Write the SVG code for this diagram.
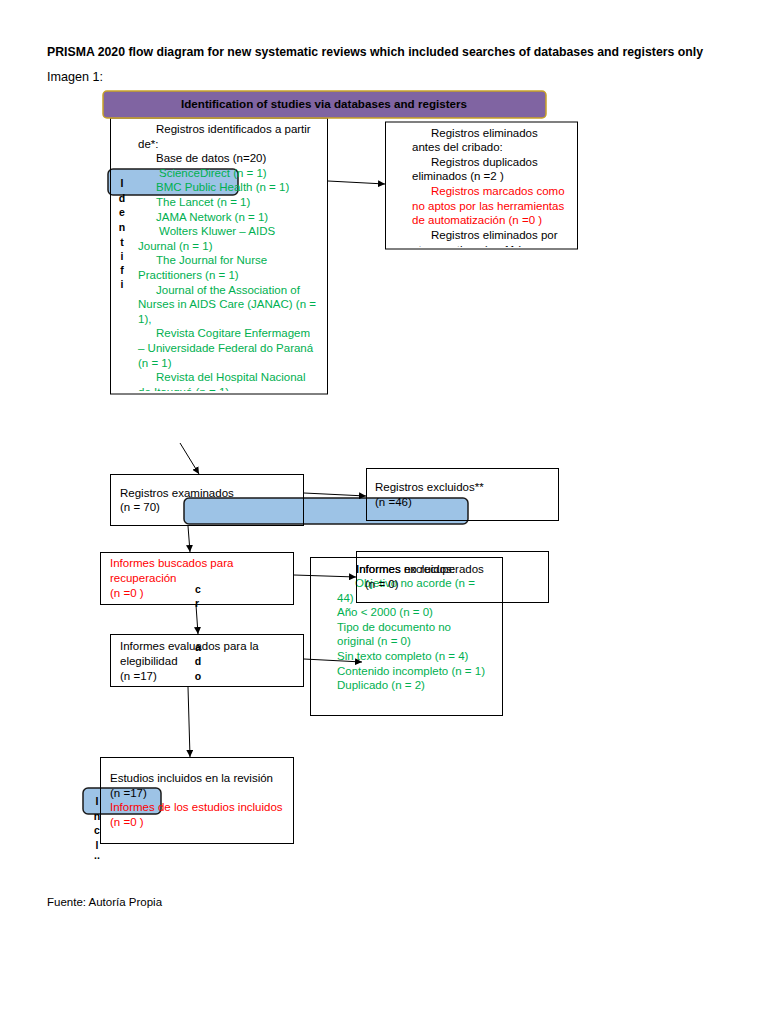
<svg xmlns="http://www.w3.org/2000/svg" width="768" height="1024" viewBox="0 0 768 1024">
<style>
.t{font-family:"Liberation Sans",Arial,sans-serif;font-size:11.5px;fill:#000}
.g{fill:#00B050}
.r{fill:#FF0000}
.v{font-family:"Liberation Sans",Arial,sans-serif;font-size:10.5px;font-weight:bold;fill:#000}
.box{fill:none;stroke:#000;stroke-width:1}
.blue{fill:#9DC3E6;stroke:#1a1a1a;stroke-width:1.5}
.c{stroke:#000;stroke-width:1;fill:none}
</style>
<defs>
<marker id="ah" viewBox="0 0 10 10" refX="10" refY="5" markerWidth="7" markerHeight="7" orient="auto" markerUnits="userSpaceOnUse">
<path d="M0,0 L10,5 L0,10 z" fill="#000"/>
</marker>
<clipPath id="clipL"><rect x="110" y="118" width="218" height="273"/></clipPath>
<clipPath id="clipR"><rect x="385" y="122" width="193" height="125"/></clipPath>
</defs>
<rect width="768" height="1024" fill="#fff"/>

<g id="title">
<text x="47" y="56" font-family="Liberation Sans,Arial,sans-serif" font-size="13" font-weight="bold" textLength="656" lengthAdjust="spacingAndGlyphs">PRISMA 2020 flow diagram for new systematic reviews which included searches of databases and registers only</text>
<text x="47" y="81" font-family="Liberation Sans,Arial,sans-serif" font-size="13" textLength="56" lengthAdjust="spacingAndGlyphs">Imagen 1:</text>
</g>

<g id="blue-bars">
<rect class="blue" x="108" y="169" width="130" height="26" rx="5"/>
<rect class="blue" x="184" y="498" width="284" height="26" rx="5"/>
<rect class="blue" x="83" y="788" width="78" height="26" rx="5"/>
</g>

<g id="n-identified">
<rect class="box" x="110.5" y="118" width="217" height="276"/>
<g clip-path="url(#clipL)">
<text class="t" x="156" y="133">Registros identificados a partir</text>
<text class="t" x="138" y="148">de*:</text>
<text class="t" x="156" y="162">Base de datos (n=20)</text>
<text class="t g" x="159" y="177">ScienceDirect (n = 1)</text>
<text class="t g" x="156" y="191">BMC Public Health (n = 1)</text>
<text class="t g" x="156" y="206">The Lancet (n = 1)</text>
<text class="t g" x="156" y="221">JAMA Network (n = 1)</text>
<text class="t g" x="159" y="235">Wolters Kluwer – AIDS</text>
<text class="t g" x="138" y="250">Journal (n = 1)</text>
<text class="t g" x="156" y="264">The Journal for Nurse</text>
<text class="t g" x="138" y="279">Practitioners (n = 1)</text>
<text class="t g" x="156" y="294">Journal of the Association of</text>
<text class="t g" x="138" y="308">Nurses in AIDS Care (JANAC) (n =</text>
<text class="t g" x="138" y="323">1),</text>
<text class="t g" x="156" y="337">Revista Cogitare Enfermagem</text>
<text class="t g" x="138" y="352">– Universidade Federal do Paraná</text>
<text class="t g" x="138" y="367">(n = 1)</text>
<text class="t g" x="156" y="381">Revista del Hospital Nacional</text>
<text class="t g" x="138" y="396">de Itauguá (n = 1)</text>
</g>
</g>

<g id="header">
<rect x="103" y="91" width="443" height="27" rx="4" fill="#8064A2" stroke="#C9A227" stroke-width="1.5"/>
<text x="324" y="108" text-anchor="middle" font-family="Liberation Sans,Arial,sans-serif" font-size="11" font-weight="bold" textLength="286" lengthAdjust="spacingAndGlyphs">Identification of studies via databases and registers</text>
</g>

<g id="label-identification">
<text class="v" x="122" y="187" text-anchor="middle">I</text>
<text class="v" x="122" y="202" text-anchor="middle">d</text>
<text class="v" x="122" y="216" text-anchor="middle">e</text>
<text class="v" x="122" y="231" text-anchor="middle">n</text>
<text class="v" x="122" y="246" text-anchor="middle">t</text>
<text class="v" x="122" y="260" text-anchor="middle">i</text>
<text class="v" x="122" y="274" text-anchor="middle">f</text>
<text class="v" x="122" y="288" text-anchor="middle">i</text>
</g>

<g id="n-removed">
<rect class="box" x="385.5" y="122" width="192" height="127"/>
<g clip-path="url(#clipR)">
<text class="t" x="431" y="137">Registros eliminados</text>
<text class="t" x="412" y="151">antes del cribado:</text>
<text class="t" x="431" y="166">Registros duplicados</text>
<text class="t" x="412" y="180">eliminados (n =2 )</text>
<text class="t r" x="431" y="195">Registros marcados como</text>
<text class="t r" x="412" y="210">no aptos por las herramientas</text>
<text class="t r" x="412" y="224">de automatización (n =0 )</text>
<text class="t" x="431" y="239">Registros eliminados por</text>
<text class="t" x="412" y="254">otros motivos (n =11 )</text>
</g>
</g>

<g id="n-screened">
<rect class="box" x="110.5" y="474.5" width="193" height="51"/>
<text class="t" x="120" y="497">Registros examinados</text>
<text class="t" x="120" y="511">(n = 70)</text>
</g>

<g id="n-excluded">
<rect class="box" x="366.5" y="468.5" width="192" height="52"/>
<text class="t" x="375" y="491">Registros excluidos**</text>
<text class="t" x="375" y="506">(n =46)</text>
</g>

<g id="n-sought">
<rect class="box" x="100.5" y="552.5" width="193" height="52"/>
<text class="t r" x="110" y="567">Informes buscados para</text>
<text class="t r" x="110" y="582">recuperación</text>
<text class="t r" x="110" y="597">(n =0 )</text>
</g>

<g id="n-reports-excluded">
<rect class="box" x="310.5" y="557.5" width="192" height="158"/>
<text class="t" x="356" y="573">Informes excluidos:</text>
<text class="t g" x="355" y="587">Objetivo no acorde (n =</text>
<text class="t g" x="337" y="602">44)</text>
<text class="t g" x="337" y="616">Año &lt; 2000 (n = 0)</text>
<text class="t g" x="337" y="631">Tipo de documento no</text>
<text class="t g" x="337" y="645">original (n = 0)</text>
<text class="t g" x="337" y="660">Sin texto completo (n = 4)</text>
<text class="t g" x="337" y="675">Contenido incompleto (n = 1)</text>
<text class="t g" x="337" y="689">Duplicado (n = 2)</text>
</g>

<g id="n-not-retrieved">
<rect class="box" x="356.5" y="551.5" width="192" height="51"/>
<text class="t" x="356" y="573">Informes no recuperados</text>
<text class="t" x="365" y="588">(n = 0)</text>
</g>

<g id="n-assessed">
<rect class="box" x="110.5" y="634.5" width="193" height="52"/>
<text class="t" x="120" y="650">Informes evaluados para la</text>
<text class="t" x="120" y="665">elegibilidad</text>
<text class="t" x="120" y="680">(n =17)</text>
</g>

<g id="label-screening">
<text class="v" x="198" y="593" text-anchor="middle">c</text>
<text class="v" x="197" y="607" text-anchor="middle">r</text>
<text class="v" x="198" y="651" text-anchor="middle">a</text>
<text class="v" x="198" y="665" text-anchor="middle">d</text>
<text class="v" x="198" y="680" text-anchor="middle">o</text>
</g>

<g id="n-included">
<rect class="box" x="100.5" y="757.5" width="193" height="86"/>
<text class="t" x="110" y="782">Estudios incluidos en la revisión</text>
<text class="t" x="110" y="797">(n =17)</text>
<text class="t r" x="110" y="811">Informes de los estudios incluidos</text>
<text class="t r" x="110" y="826">(n =0  )</text>
</g>

<g id="label-included">
<text class="v" x="97" y="805" text-anchor="middle">I</text>
<text class="v" x="97" y="820" text-anchor="middle">n</text>
<text class="v" x="97" y="834" text-anchor="middle">c</text>
<text class="v" x="97" y="849" text-anchor="middle">l</text>
<text class="v" x="97" y="859" text-anchor="middle">..</text>
</g>

<g id="connectors">
<line class="c" x1="328" y1="181" x2="385" y2="184" marker-end="url(#ah)"/>
<line class="c" x1="180" y1="443" x2="199" y2="474" marker-end="url(#ah)"/>
<line class="c" x1="304" y1="493" x2="366" y2="496" marker-end="url(#ah)"/>
<line class="c" x1="188" y1="526" x2="190" y2="552" marker-end="url(#ah)"/>
<line class="c" x1="294" y1="575" x2="356" y2="577" marker-end="url(#ah)"/>
<line class="c" x1="196" y1="605" x2="198" y2="634" marker-end="url(#ah)"/>
<line class="c" x1="304" y1="659" x2="362" y2="662" marker-end="url(#ah)"/>
<line class="c" x1="188" y1="687" x2="190" y2="757" marker-end="url(#ah)"/>
</g>

<g id="footer">
<text class="t" x="47" y="906">Fuente: Autoría Propia</text>
</g>
</svg>
